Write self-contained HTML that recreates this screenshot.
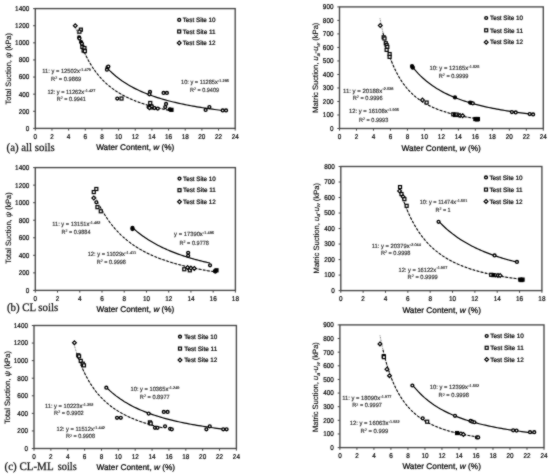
<!DOCTYPE html>
<html><head><meta charset="utf-8"><style>
html,body{margin:0;padding:0;background:#fff;}
svg{display:block;text-rendering:geometricPrecision;}
text{font-family:"Liberation Sans",Arial,sans-serif;fill:#000;}
.tk{font-size:7.0px;stroke:#000;stroke-width:0.2px;}
.lg{font-size:6.3px;stroke:#000;stroke-width:0.22px;}
.xt{font-size:8.25px;stroke:#000;stroke-width:0.22px;}
.yt1{font-size:7.7px;stroke:#000;stroke-width:0.12px;}
.yt2{font-size:7.7px;stroke:#000;stroke-width:0.12px;}
.eq{font-size:6.0px;fill:#262626;stroke:#262626;stroke-width:0.15px;}
.sup{font-size:3.8px;fill:#262626;stroke:#262626;stroke-width:0.15px;}
.r2{font-size:3.9px;stroke-width:0.12px;}
.cap{font-family:"Liberation Serif","Times New Roman",serif;font-size:11.4px;fill:#111;stroke:#111;stroke-width:0.25px;}
</style></head><body>
<svg width="550" height="474" viewBox="0 0 550 474">
<defs><filter id="soft" x="0" y="0" width="1" height="1" color-interpolation-filters="sRGB"><feConvolveMatrix order="3" kernelMatrix="1 2 1 2 16 2 1 2 1" edgeMode="duplicate"/></filter></defs>
<g filter="url(#soft)">
<rect width="550" height="474" fill="#fff"/>
<rect x="35.3" y="8.6" width="199.9" height="119.8" fill="none" stroke="#474747" stroke-width="1.35"/>
<text x="35.3" y="139" class="tk" text-anchor="middle" textLength="3.55" lengthAdjust="spacingAndGlyphs">0</text>
<text x="51.96" y="139" class="tk" text-anchor="middle" textLength="3.55" lengthAdjust="spacingAndGlyphs">2</text>
<text x="68.62" y="139" class="tk" text-anchor="middle" textLength="3.55" lengthAdjust="spacingAndGlyphs">4</text>
<text x="85.27" y="139" class="tk" text-anchor="middle" textLength="3.55" lengthAdjust="spacingAndGlyphs">6</text>
<text x="101.93" y="139" class="tk" text-anchor="middle" textLength="3.55" lengthAdjust="spacingAndGlyphs">8</text>
<text x="118.59" y="139" class="tk" text-anchor="middle" textLength="7.1" lengthAdjust="spacingAndGlyphs">10</text>
<text x="135.25" y="139" class="tk" text-anchor="middle" textLength="7.1" lengthAdjust="spacingAndGlyphs">12</text>
<text x="151.91" y="139" class="tk" text-anchor="middle" textLength="7.1" lengthAdjust="spacingAndGlyphs">14</text>
<text x="168.57" y="139" class="tk" text-anchor="middle" textLength="7.1" lengthAdjust="spacingAndGlyphs">16</text>
<text x="185.22" y="139" class="tk" text-anchor="middle" textLength="7.1" lengthAdjust="spacingAndGlyphs">18</text>
<text x="201.88" y="139" class="tk" text-anchor="middle" textLength="7.1" lengthAdjust="spacingAndGlyphs">20</text>
<text x="218.54" y="139" class="tk" text-anchor="middle" textLength="7.1" lengthAdjust="spacingAndGlyphs">22</text>
<text x="235.2" y="139" class="tk" text-anchor="middle" textLength="7.1" lengthAdjust="spacingAndGlyphs">24</text>
<text x="29.3" y="130.8" class="tk" text-anchor="end" textLength="3.55" lengthAdjust="spacingAndGlyphs">0</text>
<text x="29.3" y="113.69" class="tk" text-anchor="end" textLength="10.65" lengthAdjust="spacingAndGlyphs">200</text>
<text x="29.3" y="96.57" class="tk" text-anchor="end" textLength="10.65" lengthAdjust="spacingAndGlyphs">400</text>
<text x="29.3" y="79.46" class="tk" text-anchor="end" textLength="10.65" lengthAdjust="spacingAndGlyphs">600</text>
<text x="29.3" y="62.34" class="tk" text-anchor="end" textLength="10.65" lengthAdjust="spacingAndGlyphs">800</text>
<text x="29.3" y="45.23" class="tk" text-anchor="end" textLength="14.2" lengthAdjust="spacingAndGlyphs">1000</text>
<text x="29.3" y="28.11" class="tk" text-anchor="end" textLength="14.2" lengthAdjust="spacingAndGlyphs">1200</text>
<text x="29.3" y="11" class="tk" text-anchor="end" textLength="14.2" lengthAdjust="spacingAndGlyphs">1400</text>
<path d="M35.3 128.4v2.2M51.96 128.4v2.2M68.62 128.4v2.2M85.27 128.4v2.2M101.93 128.4v2.2M118.59 128.4v2.2M135.25 128.4v2.2M151.91 128.4v2.2M168.57 128.4v2.2M185.22 128.4v2.2M201.88 128.4v2.2M218.54 128.4v2.2M235.2 128.4v2.2M35.3 128.4h-2.2M35.3 111.29h-2.2M35.3 94.17h-2.2M35.3 77.06h-2.2M35.3 59.94h-2.2M35.3 42.83h-2.2M35.3 25.71h-2.2M35.3 8.6h-2.2" stroke="#474747" stroke-width="1" fill="none"/>
<polyline points="108,68.88 109.98,70.87 111.95,72.74 113.93,74.51 115.9,76.18 117.88,77.76 119.85,79.26 121.82,80.67 123.8,82.02 125.78,83.3 127.75,84.52 129.72,85.68 131.7,86.79 133.68,87.85 135.65,88.86 137.62,89.82 139.6,90.75 141.57,91.63 143.55,92.48 145.53,93.29 147.5,94.08 149.48,94.83 151.45,95.55 153.43,96.25 155.4,96.91 157.38,97.56 159.35,98.18 161.32,98.78 163.3,99.36 165.27,99.92 167.25,100.46 169.22,100.98 171.2,101.48 173.18,101.97 175.15,102.44 177.12,102.9 179.1,103.35 181.07,103.78 183.05,104.19 185.02,104.6 187,104.99 188.98,105.37 190.95,105.74 192.93,106.1 194.9,106.45 196.88,106.79 198.85,107.12 200.82,107.44 202.8,107.75 204.77,108.06 206.75,108.36 208.72,108.64 210.7,108.93 212.68,109.2 214.65,109.47 216.62,109.73 218.6,109.99 220.57,110.23 222.55,110.48 224.52,110.71 226.5,110.94" fill="none" stroke="#000" stroke-width="1.2"/>
<polyline points="81,44.1 82.48,47.87 83.97,51.36 85.45,54.6 86.93,57.62 88.42,60.43 89.9,63.06 91.38,65.52 92.87,67.83 94.35,69.99 95.83,72.03 97.32,73.95 98.8,75.76 100.28,77.47 101.77,79.09 103.25,80.63 104.73,82.08 106.22,83.46 107.7,84.77 109.18,86.02 110.67,87.21 112.15,88.35 113.63,89.43 115.12,90.46 116.6,91.45 118.08,92.39 119.57,93.3 121.05,94.16 122.53,94.99 124.02,95.79 125.5,96.55 126.98,97.29 128.47,98 129.95,98.68 131.43,99.33 132.92,99.96 134.4,100.57 135.88,101.15 137.37,101.72 138.85,102.26 140.33,102.79 141.82,103.3 143.3,103.79 144.78,104.27 146.27,104.73 147.75,105.17 149.23,105.61 150.72,106.02 152.2,106.43 153.68,106.82 155.17,107.2 156.65,107.57 158.13,107.93 159.62,108.28 161.1,108.62 162.58,108.95 164.07,109.27 165.55,109.58 167.03,109.88 168.52,110.18 170,110.46" fill="none" stroke="#000" stroke-width="1.05" stroke-dasharray="2.6 1.6"/>
<polyline points="75.5,27.11 77.08,32.54 78.65,37.48 80.23,42.01 81.8,46.17 83.38,50 84.95,53.54 86.53,56.81 88.1,59.85 89.68,62.67 91.25,65.3 92.83,67.76 94.4,70.06 95.97,72.22 97.55,74.24 99.12,76.15 100.7,77.94 102.28,79.63 103.85,81.23 105.42,82.73 107,84.16 108.58,85.52 110.15,86.8 111.72,88.03 113.3,89.19 114.88,90.3 116.45,91.35 118.02,92.36 119.6,93.32 121.18,94.23 122.75,95.11 124.32,95.95 125.9,96.76 127.47,97.53 129.05,98.27 130.62,98.98 132.2,99.66 133.78,100.31 135.35,100.95 136.93,101.55 138.5,102.14 140.08,102.7 141.65,103.24 143.23,103.77 144.8,104.27 146.38,104.76 147.95,105.23 149.53,105.69 151.1,106.13 152.68,106.56 154.25,106.97 155.82,107.37 157.4,107.76 158.97,108.13 160.55,108.5 162.12,108.85 163.7,109.19 165.28,109.52 166.85,109.85 168.43,110.16 170,110.46" fill="none" stroke="#000" stroke-width="0.6" stroke-dasharray="0.8 0.8"/>
<path d="M75.28 23.81L77.18 25.71L75.28 27.61L73.38 25.71Z" fill="#fff" stroke="#000" stroke-width="1.2"/>
<rect x="79.36" y="28.15" width="3" height="3" fill="#fff" stroke="#000" stroke-width="1.2"/>
<rect x="77.94" y="30.2" width="3" height="3" fill="#fff" stroke="#000" stroke-width="1.2"/>
<circle cx="79.19" cy="37.44" r="1.45" fill="#000" stroke="#000" stroke-width="1.35"/>
<circle cx="79.44" cy="38.55" r="1.45" fill="#fff" stroke="#000" stroke-width="1.35"/>
<circle cx="81.11" cy="42.14" r="1.45" fill="#000" stroke="#000" stroke-width="1.35"/>
<circle cx="81.94" cy="43.86" r="1.45" fill="#fff" stroke="#000" stroke-width="1.35"/>
<rect x="80.86" y="45.44" width="3" height="3" fill="#fff" stroke="#000" stroke-width="1.2"/>
<rect x="82.94" y="46.55" width="3" height="3" fill="#fff" stroke="#000" stroke-width="1.2"/>
<rect x="82.11" y="49.03" width="3" height="3" fill="#fff" stroke="#000" stroke-width="1.2"/>
<rect x="83.36" y="49.63" width="3" height="3" fill="#fff" stroke="#000" stroke-width="1.2"/>
<circle cx="107.51" cy="67.39" r="1.45" fill="#fff" stroke="#000" stroke-width="1.35"/>
<circle cx="108.35" cy="66.53" r="1.45" fill="#fff" stroke="#000" stroke-width="1.35"/>
<circle cx="106.93" cy="69.7" r="1.45" fill="#fff" stroke="#000" stroke-width="1.35"/>
<circle cx="117.26" cy="98.54" r="1.45" fill="#fff" stroke="#000" stroke-width="1.35"/>
<rect x="120.01" y="97.04" width="3" height="3" fill="#fff" stroke="#000" stroke-width="1.2"/>
<circle cx="149.99" cy="91.95" r="1.45" fill="#fff" stroke="#000" stroke-width="1.35"/>
<circle cx="149.41" cy="94.34" r="1.45" fill="#fff" stroke="#000" stroke-width="1.35"/>
<circle cx="163.57" cy="92.97" r="1.45" fill="#fff" stroke="#000" stroke-width="1.35"/>
<circle cx="166.9" cy="92.97" r="1.45" fill="#fff" stroke="#000" stroke-width="1.35"/>
<rect x="148.74" y="101.49" width="3" height="3" fill="#fff" stroke="#000" stroke-width="1.2"/>
<circle cx="148.58" cy="107.01" r="1.45" fill="#fff" stroke="#000" stroke-width="1.35"/>
<rect x="149.58" y="105.94" width="3" height="3" fill="#fff" stroke="#000" stroke-width="1.2"/>
<circle cx="151.91" cy="106.15" r="1.45" fill="#fff" stroke="#000" stroke-width="1.35"/>
<path d="M149.41 105.96L151.31 107.86L149.41 109.76L147.51 107.86Z" fill="#fff" stroke="#000" stroke-width="1.2"/>
<circle cx="154.41" cy="108.03" r="1.45" fill="#fff" stroke="#000" stroke-width="1.35"/>
<circle cx="157.74" cy="108.55" r="1.45" fill="#fff" stroke="#000" stroke-width="1.35"/>
<circle cx="166.07" cy="103.93" r="1.45" fill="#fff" stroke="#000" stroke-width="1.35"/>
<circle cx="165.23" cy="107.01" r="1.45" fill="#fff" stroke="#000" stroke-width="1.35"/>
<circle cx="169.82" cy="109.49" r="1.45" fill="#000" stroke="#000" stroke-width="1.35"/>
<rect x="169.98" y="108.33" width="3" height="3" fill="#000" stroke="#000" stroke-width="1.2"/>
<circle cx="205.63" cy="109.92" r="1.45" fill="#fff" stroke="#000" stroke-width="1.35"/>
<circle cx="209.38" cy="107.01" r="1.45" fill="#fff" stroke="#000" stroke-width="1.35"/>
<circle cx="222.71" cy="110.43" r="1.45" fill="#fff" stroke="#000" stroke-width="1.35"/>
<circle cx="226.04" cy="110.43" r="1.45" fill="#fff" stroke="#000" stroke-width="1.35"/>
<circle cx="179.2" cy="19.9" r="1.45" fill="#fff" stroke="#000" stroke-width="1.35"/>
<text x="182.7" y="22.1" class="lg" textLength="32.9" lengthAdjust="spacingAndGlyphs">Test Site 10</text>
<rect x="177.7" y="30" width="3" height="3" fill="#fff" stroke="#000" stroke-width="1.2"/>
<text x="182.7" y="33.7" class="lg" textLength="32.9" lengthAdjust="spacingAndGlyphs">Test Site 11</text>
<path d="M179.2 41L181.1 42.9L179.2 44.8L177.3 42.9Z" fill="#fff" stroke="#000" stroke-width="1.2"/>
<text x="182.7" y="45.1" class="lg" textLength="32.9" lengthAdjust="spacingAndGlyphs">Test Site 12</text>
<text x="42.3" y="73.3" class="eq" textLength="37.5" lengthAdjust="spacingAndGlyphs">11: y = 12502x</text>
<text x="80.1" y="71.2" class="sup" textLength="10.9" lengthAdjust="spacingAndGlyphs">-1.479</text>
<text x="51" y="80.9" class="eq" textLength="30.3" lengthAdjust="spacingAndGlyphs">R<tspan class="r2" dy="-1.9">2</tspan><tspan dy="1.9"> = 0.9869</tspan></text>
<text x="47.4" y="93.7" class="eq" textLength="36.8" lengthAdjust="spacingAndGlyphs">12: y = 11262x</text>
<text x="84.5" y="91.6" class="sup" textLength="10.9" lengthAdjust="spacingAndGlyphs">-1.427</text>
<text x="56.8" y="101" class="eq" textLength="29.1" lengthAdjust="spacingAndGlyphs">R<tspan class="r2" dy="-1.9">2</tspan><tspan dy="1.9"> = 0.9941</tspan></text>
<text x="181" y="84.4" class="eq" textLength="36.8" lengthAdjust="spacingAndGlyphs">10: y = 11285x</text>
<text x="218.1" y="82.3" class="sup" textLength="10.9" lengthAdjust="spacingAndGlyphs">-1.285</text>
<text x="190" y="92" class="eq" textLength="29" lengthAdjust="spacingAndGlyphs">R<tspan class="r2" dy="-1.9">2</tspan><tspan dy="1.9"> = 0.9409</tspan></text>
<text x="96.2" y="150.4" class="xt" textLength="78.1" lengthAdjust="spacingAndGlyphs">Water Content, <tspan font-style="italic">w</tspan> (%)</text>
<text transform="translate(11.4 68.75) rotate(-90)" x="0" y="0" text-anchor="middle" class="yt1" textLength="71.3" lengthAdjust="spacingAndGlyphs">Total Suction, <tspan font-style="italic">ψ</tspan> (kPa)</text>
<text x="6.6" y="151.1" class="cap" textLength="48.1" lengthAdjust="spacingAndGlyphs">(a) all soils</text>
<rect x="339.5" y="6.9" width="203.8" height="121.6" fill="none" stroke="#474747" stroke-width="1.35"/>
<text x="339.5" y="139.1" class="tk" text-anchor="middle" textLength="3.55" lengthAdjust="spacingAndGlyphs">0</text>
<text x="356.48" y="139.1" class="tk" text-anchor="middle" textLength="3.55" lengthAdjust="spacingAndGlyphs">2</text>
<text x="373.47" y="139.1" class="tk" text-anchor="middle" textLength="3.55" lengthAdjust="spacingAndGlyphs">4</text>
<text x="390.45" y="139.1" class="tk" text-anchor="middle" textLength="3.55" lengthAdjust="spacingAndGlyphs">6</text>
<text x="407.43" y="139.1" class="tk" text-anchor="middle" textLength="3.55" lengthAdjust="spacingAndGlyphs">8</text>
<text x="424.42" y="139.1" class="tk" text-anchor="middle" textLength="7.1" lengthAdjust="spacingAndGlyphs">10</text>
<text x="441.4" y="139.1" class="tk" text-anchor="middle" textLength="7.1" lengthAdjust="spacingAndGlyphs">12</text>
<text x="458.38" y="139.1" class="tk" text-anchor="middle" textLength="7.1" lengthAdjust="spacingAndGlyphs">14</text>
<text x="475.37" y="139.1" class="tk" text-anchor="middle" textLength="7.1" lengthAdjust="spacingAndGlyphs">16</text>
<text x="492.35" y="139.1" class="tk" text-anchor="middle" textLength="7.1" lengthAdjust="spacingAndGlyphs">18</text>
<text x="509.33" y="139.1" class="tk" text-anchor="middle" textLength="7.1" lengthAdjust="spacingAndGlyphs">20</text>
<text x="526.32" y="139.1" class="tk" text-anchor="middle" textLength="7.1" lengthAdjust="spacingAndGlyphs">22</text>
<text x="543.3" y="139.1" class="tk" text-anchor="middle" textLength="7.1" lengthAdjust="spacingAndGlyphs">24</text>
<text x="333.5" y="130.9" class="tk" text-anchor="end" textLength="3.55" lengthAdjust="spacingAndGlyphs">0</text>
<text x="333.5" y="117.39" class="tk" text-anchor="end" textLength="10.65" lengthAdjust="spacingAndGlyphs">100</text>
<text x="333.5" y="103.88" class="tk" text-anchor="end" textLength="10.65" lengthAdjust="spacingAndGlyphs">200</text>
<text x="333.5" y="90.37" class="tk" text-anchor="end" textLength="10.65" lengthAdjust="spacingAndGlyphs">300</text>
<text x="333.5" y="76.86" class="tk" text-anchor="end" textLength="10.65" lengthAdjust="spacingAndGlyphs">400</text>
<text x="333.5" y="63.34" class="tk" text-anchor="end" textLength="10.65" lengthAdjust="spacingAndGlyphs">500</text>
<text x="333.5" y="49.83" class="tk" text-anchor="end" textLength="10.65" lengthAdjust="spacingAndGlyphs">600</text>
<text x="333.5" y="36.32" class="tk" text-anchor="end" textLength="10.65" lengthAdjust="spacingAndGlyphs">700</text>
<text x="333.5" y="22.81" class="tk" text-anchor="end" textLength="10.65" lengthAdjust="spacingAndGlyphs">800</text>
<text x="333.5" y="9.3" class="tk" text-anchor="end" textLength="10.65" lengthAdjust="spacingAndGlyphs">900</text>
<path d="M339.5 128.5v2.2M356.48 128.5v2.2M373.47 128.5v2.2M390.45 128.5v2.2M407.43 128.5v2.2M424.42 128.5v2.2M441.4 128.5v2.2M458.38 128.5v2.2M475.37 128.5v2.2M492.35 128.5v2.2M509.33 128.5v2.2M526.32 128.5v2.2M543.3 128.5v2.2M339.5 128.5h-2.2M339.5 114.99h-2.2M339.5 101.48h-2.2M339.5 87.97h-2.2M339.5 74.46h-2.2M339.5 60.94h-2.2M339.5 47.43h-2.2M339.5 33.92h-2.2M339.5 20.41h-2.2M339.5 6.9h-2.2" stroke="#474747" stroke-width="1" fill="none"/>
<polyline points="412.5,66.92 414.51,69.38 416.52,71.68 418.52,73.84 420.53,75.86 422.54,77.77 424.55,79.56 426.56,81.24 428.57,82.84 430.57,84.34 432.58,85.77 434.59,87.12 436.6,88.4 438.61,89.61 440.62,90.77 442.62,91.87 444.63,92.91 446.64,93.91 448.65,94.86 450.66,95.77 452.67,96.64 454.68,97.47 456.68,98.27 458.69,99.03 460.7,99.76 462.71,100.46 464.72,101.14 466.72,101.78 468.73,102.41 470.74,103 472.75,103.58 474.76,104.13 476.77,104.67 478.77,105.18 480.78,105.68 482.79,106.16 484.8,106.62 486.81,107.07 488.82,107.5 490.82,107.92 492.83,108.32 494.84,108.71 496.85,109.09 498.86,109.46 500.87,109.81 502.88,110.16 504.88,110.49 506.89,110.81 508.9,111.13 510.91,111.43 512.92,111.73 514.92,112.02 516.93,112.3 518.94,112.57 520.95,112.83 522.96,113.09 524.97,113.34 526.98,113.58 528.98,113.82 530.99,114.05 533,114.28" fill="none" stroke="#000" stroke-width="1.2"/>
<polyline points="383,32.92 384.57,39.37 386.13,45.18 387.7,50.45 389.27,55.23 390.83,59.58 392.4,63.55 393.97,67.19 395.53,70.53 397.1,73.6 398.67,76.43 400.23,79.05 401.8,81.48 403.37,83.73 404.93,85.82 406.5,87.77 408.07,89.59 409.63,91.29 411.2,92.87 412.77,94.36 414.33,95.76 415.9,97.07 417.47,98.31 419.03,99.47 420.6,100.57 422.17,101.6 423.73,102.58 425.3,103.51 426.87,104.39 428.43,105.22 430,106.01 431.57,106.76 433.13,107.47 434.7,108.15 436.27,108.79 437.83,109.41 439.4,110 440.97,110.56 442.53,111.09 444.1,111.6 445.67,112.09 447.23,112.56 448.8,113.01 450.37,113.44 451.93,113.85 453.5,114.24 455.07,114.62 456.63,114.99 458.2,115.34 459.77,115.67 461.33,116 462.9,116.31 464.47,116.61 466.03,116.9 467.6,117.18 469.17,117.44 470.73,117.7 472.3,117.95 473.87,118.2 475.43,118.43 477,118.65" fill="none" stroke="#000" stroke-width="1.05" stroke-dasharray="2.6 1.6"/>
<polyline points="380,18.43 381.62,26.62 383.23,33.92 384.85,40.46 386.47,46.35 388.08,51.66 389.7,56.47 391.32,60.84 392.93,64.82 394.55,68.46 396.17,71.8 397.78,74.86 399.4,77.69 401.02,80.29 402.63,82.7 404.25,84.93 405.87,87 407.48,88.93 409.1,90.72 410.72,92.4 412.33,93.96 413.95,95.43 415.57,96.8 417.18,98.09 418.8,99.3 420.42,100.44 422.03,101.52 423.65,102.53 425.27,103.49 426.88,104.4 428.5,105.25 430.12,106.06 431.73,106.83 433.35,107.57 434.97,108.26 436.58,108.92 438.2,109.55 439.82,110.15 441.43,110.72 443.05,111.26 444.67,111.78 446.28,112.28 447.9,112.75 449.52,113.21 451.13,113.64 452.75,114.06 454.37,114.45 455.98,114.84 457.6,115.2 459.22,115.56 460.83,115.89 462.45,116.22 464.07,116.53 465.68,116.83 467.3,117.12 468.92,117.4 470.53,117.67 472.15,117.93 473.77,118.18 475.38,118.42 477,118.65" fill="none" stroke="#000" stroke-width="0.6" stroke-dasharray="0.8 0.8"/>
<path d="M380.26 23.65L382.16 25.55L380.26 27.45L378.36 25.55Z" fill="#fff" stroke="#000" stroke-width="1.2"/>
<rect x="382.16" y="35.8" width="3" height="3" fill="#fff" stroke="#000" stroke-width="1.2"/>
<rect x="383.01" y="37.02" width="3" height="3" fill="#fff" stroke="#000" stroke-width="1.2"/>
<rect x="384.28" y="41.74" width="3" height="3" fill="#fff" stroke="#000" stroke-width="1.2"/>
<rect x="385.13" y="43.64" width="3" height="3" fill="#fff" stroke="#000" stroke-width="1.2"/>
<rect x="385.81" y="45.39" width="3" height="3" fill="#fff" stroke="#000" stroke-width="1.2"/>
<rect x="385.13" y="48.37" width="3" height="3" fill="#fff" stroke="#000" stroke-width="1.2"/>
<rect x="388.1" y="52.55" width="3" height="3" fill="#fff" stroke="#000" stroke-width="1.2"/>
<rect x="388.1" y="55.39" width="3" height="3" fill="#fff" stroke="#000" stroke-width="1.2"/>
<circle cx="412.02" cy="66.08" r="1.45" fill="#fff" stroke="#000" stroke-width="1.35"/>
<circle cx="412.78" cy="67.7" r="1.45" fill="#000" stroke="#000" stroke-width="1.35"/>
<circle cx="412.36" cy="66.89" r="1.45" fill="#000" stroke="#000" stroke-width="1.35"/>
<path d="M422.46 98.09L424.36 99.99L422.46 101.89L420.56 99.99Z" fill="#fff" stroke="#000" stroke-width="1.2"/>
<rect x="425.12" y="101.06" width="3" height="3" fill="#fff" stroke="#000" stroke-width="1.2"/>
<circle cx="454.99" cy="97.42" r="1.45" fill="#000" stroke="#000" stroke-width="1.35"/>
<circle cx="470.02" cy="102.56" r="1.45" fill="#000" stroke="#000" stroke-width="1.35"/>
<circle cx="471.12" cy="102.83" r="1.45" fill="#000" stroke="#000" stroke-width="1.35"/>
<circle cx="472.82" cy="103.37" r="1.45" fill="#fff" stroke="#000" stroke-width="1.35"/>
<circle cx="511.88" cy="112.02" r="1.45" fill="#fff" stroke="#000" stroke-width="1.35"/>
<circle cx="515.7" cy="112.42" r="1.45" fill="#fff" stroke="#000" stroke-width="1.35"/>
<circle cx="529.71" cy="114.04" r="1.45" fill="#fff" stroke="#000" stroke-width="1.35"/>
<circle cx="533.11" cy="114.45" r="1.45" fill="#fff" stroke="#000" stroke-width="1.35"/>
<rect x="451.79" y="112.81" width="3" height="3" fill="#fff" stroke="#000" stroke-width="1.2"/>
<rect x="453.49" y="113.49" width="3" height="3" fill="#000" stroke="#000" stroke-width="1.2"/>
<rect x="455.19" y="113.08" width="3" height="3" fill="#fff" stroke="#000" stroke-width="1.2"/>
<circle cx="458.38" cy="115.26" r="1.45" fill="#fff" stroke="#000" stroke-width="1.35"/>
<path d="M460.08 113.63L461.98 115.53L460.08 117.43L458.18 115.53Z" fill="#fff" stroke="#000" stroke-width="1.2"/>
<path d="M462.63 113.76L464.53 115.66L462.63 117.56L460.73 115.66Z" fill="#fff" stroke="#000" stroke-width="1.2"/>
<rect x="473.87" y="117.54" width="3" height="3" fill="#000" stroke="#000" stroke-width="1.2"/>
<rect x="475.14" y="117.54" width="3" height="3" fill="#000" stroke="#000" stroke-width="1.2"/>
<rect x="476.41" y="117.54" width="3" height="3" fill="#000" stroke="#000" stroke-width="1.2"/>
<rect x="475.56" y="117.81" width="3" height="3" fill="#000" stroke="#000" stroke-width="1.2"/>
<circle cx="486.2" cy="18" r="1.45" fill="#fff" stroke="#000" stroke-width="1.35"/>
<text x="490" y="20.2" class="lg" textLength="33" lengthAdjust="spacingAndGlyphs">Test Site 10</text>
<rect x="484.7" y="28.8" width="3" height="3" fill="#fff" stroke="#000" stroke-width="1.2"/>
<text x="490" y="32.5" class="lg" textLength="33" lengthAdjust="spacingAndGlyphs">Test Site 11</text>
<path d="M486.2 40.3L488.1 42.2L486.2 44.1L484.3 42.2Z" fill="#fff" stroke="#000" stroke-width="1.2"/>
<text x="490" y="44.4" class="lg" textLength="33" lengthAdjust="spacingAndGlyphs">Test Site 12</text>
<text x="429.6" y="70.1" class="eq" textLength="38.6" lengthAdjust="spacingAndGlyphs">10: y = 12165x</text>
<text x="468.5" y="68" class="sup" textLength="10.9" lengthAdjust="spacingAndGlyphs">-1.525</text>
<text x="438.7" y="77.8" class="eq" textLength="29.8" lengthAdjust="spacingAndGlyphs">R<tspan class="r2" dy="-1.9">2</tspan><tspan dy="1.9"> = 0.9999</tspan></text>
<text x="343" y="92.5" class="eq" textLength="39.2" lengthAdjust="spacingAndGlyphs">11: y = 20188x</text>
<text x="382.5" y="90.4" class="sup" textLength="10.9" lengthAdjust="spacingAndGlyphs">-2.038</text>
<text x="352.7" y="100.2" class="eq" textLength="30" lengthAdjust="spacingAndGlyphs">R<tspan class="r2" dy="-1.9">2</tspan><tspan dy="1.9"> = 0.9996</tspan></text>
<text x="348.9" y="112.9" class="eq" textLength="38.9" lengthAdjust="spacingAndGlyphs">12: y = 16108x</text>
<text x="388.1" y="110.8" class="sup" textLength="10.9" lengthAdjust="spacingAndGlyphs">-1.905</text>
<text x="359" y="121.8" class="eq" textLength="29.3" lengthAdjust="spacingAndGlyphs">R<tspan class="r2" dy="-1.9">2</tspan><tspan dy="1.9"> = 0.9993</tspan></text>
<text x="401.5" y="150.5" class="xt" textLength="79.4" lengthAdjust="spacingAndGlyphs">Water Content, <tspan font-style="italic">w</tspan> (%)</text>
<text transform="translate(318.1 112.7) rotate(-90)" x="0" y="0" class="yt2" textLength="90.1" lengthAdjust="spacingAndGlyphs">Matric Suction, <tspan font-style="italic">u</tspan><tspan font-style="italic" font-size="5.4" dy="1.6">a</tspan><tspan dy="-1.6">-</tspan><tspan font-style="italic">u</tspan><tspan font-style="italic" font-size="5.4" dy="1.6">w</tspan><tspan dy="-1.6"> (kPa)</tspan></text>
<rect x="35.3" y="167.6" width="200.1" height="122.8" fill="none" stroke="#474747" stroke-width="1.35"/>
<text x="35.3" y="301" class="tk" text-anchor="middle" textLength="3.55" lengthAdjust="spacingAndGlyphs">0</text>
<text x="57.53" y="301" class="tk" text-anchor="middle" textLength="3.55" lengthAdjust="spacingAndGlyphs">2</text>
<text x="79.77" y="301" class="tk" text-anchor="middle" textLength="3.55" lengthAdjust="spacingAndGlyphs">4</text>
<text x="102" y="301" class="tk" text-anchor="middle" textLength="3.55" lengthAdjust="spacingAndGlyphs">6</text>
<text x="124.23" y="301" class="tk" text-anchor="middle" textLength="3.55" lengthAdjust="spacingAndGlyphs">8</text>
<text x="146.47" y="301" class="tk" text-anchor="middle" textLength="7.1" lengthAdjust="spacingAndGlyphs">10</text>
<text x="168.7" y="301" class="tk" text-anchor="middle" textLength="7.1" lengthAdjust="spacingAndGlyphs">12</text>
<text x="190.93" y="301" class="tk" text-anchor="middle" textLength="7.1" lengthAdjust="spacingAndGlyphs">14</text>
<text x="213.17" y="301" class="tk" text-anchor="middle" textLength="7.1" lengthAdjust="spacingAndGlyphs">16</text>
<text x="235.4" y="301" class="tk" text-anchor="middle" textLength="7.1" lengthAdjust="spacingAndGlyphs">18</text>
<text x="29.3" y="292.8" class="tk" text-anchor="end" textLength="3.55" lengthAdjust="spacingAndGlyphs">0</text>
<text x="29.3" y="275.26" class="tk" text-anchor="end" textLength="10.65" lengthAdjust="spacingAndGlyphs">200</text>
<text x="29.3" y="257.71" class="tk" text-anchor="end" textLength="10.65" lengthAdjust="spacingAndGlyphs">400</text>
<text x="29.3" y="240.17" class="tk" text-anchor="end" textLength="10.65" lengthAdjust="spacingAndGlyphs">600</text>
<text x="29.3" y="222.63" class="tk" text-anchor="end" textLength="10.65" lengthAdjust="spacingAndGlyphs">800</text>
<text x="29.3" y="205.09" class="tk" text-anchor="end" textLength="14.2" lengthAdjust="spacingAndGlyphs">1000</text>
<text x="29.3" y="187.54" class="tk" text-anchor="end" textLength="14.2" lengthAdjust="spacingAndGlyphs">1200</text>
<text x="29.3" y="170" class="tk" text-anchor="end" textLength="14.2" lengthAdjust="spacingAndGlyphs">1400</text>
<path d="M35.3 290.4v2.2M57.53 290.4v2.2M79.77 290.4v2.2M102 290.4v2.2M124.23 290.4v2.2M146.47 290.4v2.2M168.7 290.4v2.2M190.93 290.4v2.2M213.17 290.4v2.2M235.4 290.4v2.2M35.3 290.4h-2.2M35.3 272.86h-2.2M35.3 255.31h-2.2M35.3 237.77h-2.2M35.3 220.23h-2.2M35.3 202.69h-2.2M35.3 185.14h-2.2M35.3 167.6h-2.2" stroke="#474747" stroke-width="1" fill="none"/>
<polyline points="132.3,227.51 133.6,228.68 134.89,229.81 136.19,230.91 137.48,231.98 138.78,233.01 140.07,234.01 141.37,234.99 142.66,235.93 143.96,236.85 145.25,237.74 146.55,238.61 147.84,239.45 149.13,240.27 150.43,241.06 151.73,241.84 153.02,242.59 154.32,243.33 155.61,244.05 156.91,244.74 158.2,245.42 159.5,246.09 160.79,246.73 162.09,247.36 163.38,247.98 164.68,248.58 165.97,249.16 167.26,249.74 168.56,250.29 169.86,250.84 171.15,251.37 172.44,251.89 173.74,252.4 175.04,252.9 176.33,253.39 177.62,253.86 178.92,254.33 180.22,254.79 181.51,255.23 182.81,255.67 184.1,256.1 185.39,256.51 186.69,256.92 187.99,257.32 189.28,257.72 190.57,258.1 191.87,258.48 193.17,258.85 194.46,259.21 195.75,259.57 197.05,259.92 198.34,260.26 199.64,260.6 200.94,260.93 202.23,261.25 203.53,261.57 204.82,261.88 206.12,262.19 207.41,262.49 208.71,262.78 210,263.07" fill="none" stroke="#000" stroke-width="1.2"/>
<polyline points="100,206.46 101.92,210.01 103.83,213.31 105.75,216.39 107.67,219.28 109.58,221.98 111.5,224.51 113.42,226.89 115.33,229.13 117.25,231.23 119.17,233.22 121.08,235.1 123,236.88 124.92,238.57 126.83,240.17 128.75,241.68 130.67,243.13 132.58,244.5 134.5,245.81 136.42,247.05 138.33,248.24 140.25,249.37 142.17,250.46 144.08,251.49 146,252.49 147.92,253.44 149.83,254.35 151.75,255.23 153.67,256.06 155.58,256.87 157.5,257.65 159.42,258.39 161.33,259.11 163.25,259.8 165.17,260.47 167.08,261.11 169,261.73 170.92,262.33 172.83,262.9 174.75,263.46 176.67,264 178.58,264.52 180.5,265.03 182.42,265.51 184.33,265.99 186.25,266.44 188.17,266.89 190.08,267.32 192,267.73 193.92,268.14 195.83,268.53 197.75,268.91 199.67,269.28 201.58,269.64 203.5,269.99 205.42,270.33 207.33,270.66 209.25,270.98 211.17,271.29 213.08,271.6 215,271.89" fill="none" stroke="#000" stroke-width="1.05" stroke-dasharray="2.6 1.6"/>
<polyline points="95,195.84 97,200.35 99,204.5 101,208.34 103,211.9 105,215.21 107,218.3 109,221.17 111,223.86 113,226.38 115,228.75 117,230.97 119,233.06 121,235.03 123,236.88 125,238.64 127,240.3 129,241.88 131,243.37 133,244.79 135,246.14 137,247.42 139,248.64 141,249.8 143,250.91 145,251.98 147,252.99 149,253.96 151,254.89 153,255.78 155,256.63 157,257.45 159,258.23 161,258.99 163,259.71 165,260.41 167,261.08 169,261.73 171,262.35 173,262.95 175,263.53 177,264.09 179,264.63 181,265.15 183,265.66 185,266.15 187,266.62 189,267.07 191,267.52 193,267.94 195,268.36 197,268.76 199,269.15 201,269.53 203,269.9 205,270.25 207,270.6 209,270.94 211,271.26 213,271.58 215,271.89" fill="none" stroke="#000" stroke-width="0.6" stroke-dasharray="0.8 0.8"/>
<rect x="94.83" y="187.5" width="3" height="3" fill="#fff" stroke="#000" stroke-width="1.2"/>
<rect x="92.27" y="190.57" width="3" height="3" fill="#fff" stroke="#000" stroke-width="1.2"/>
<path d="M93.77 196.14L95.67 198.04L93.77 199.94L91.87 198.04Z" fill="#fff" stroke="#000" stroke-width="1.2"/>
<circle cx="96.33" cy="202.33" r="1.45" fill="#fff" stroke="#000" stroke-width="1.35"/>
<rect x="95.94" y="205.66" width="3" height="3" fill="#fff" stroke="#000" stroke-width="1.2"/>
<rect x="99.28" y="209.78" width="3" height="3" fill="#fff" stroke="#000" stroke-width="1.2"/>
<circle cx="132.46" cy="229" r="1.45" fill="#fff" stroke="#000" stroke-width="1.35"/>
<circle cx="132.46" cy="227.95" r="1.45" fill="#000" stroke="#000" stroke-width="1.35"/>
<circle cx="188.15" cy="252.77" r="1.45" fill="#fff" stroke="#000" stroke-width="1.35"/>
<circle cx="188.15" cy="255.75" r="1.45" fill="#fff" stroke="#000" stroke-width="1.35"/>
<circle cx="210.05" cy="265.31" r="1.45" fill="#fff" stroke="#000" stroke-width="1.35"/>
<rect x="182.76" y="267.76" width="3" height="3" fill="#fff" stroke="#000" stroke-width="1.2"/>
<rect x="188.32" y="268.81" width="3" height="3" fill="#fff" stroke="#000" stroke-width="1.2"/>
<path d="M187.6 265.69L189.5 267.59L187.6 269.49L185.7 267.59Z" fill="#fff" stroke="#000" stroke-width="1.2"/>
<path d="M190.93 266.22L192.83 268.12L190.93 270.02L189.03 268.12Z" fill="#fff" stroke="#000" stroke-width="1.2"/>
<path d="M194.27 266.48L196.17 268.38L194.27 270.28L192.37 268.38Z" fill="#fff" stroke="#000" stroke-width="1.2"/>
<circle cx="214.83" cy="271.1" r="1.45" fill="#000" stroke="#000" stroke-width="1.35"/>
<rect x="215" y="268.81" width="3" height="3" fill="#000" stroke="#000" stroke-width="1.2"/>
<circle cx="215.39" cy="271.54" r="1.45" fill="#000" stroke="#000" stroke-width="1.35"/>
<circle cx="179.5" cy="178.6" r="1.45" fill="#fff" stroke="#000" stroke-width="1.35"/>
<text x="183.1" y="180.8" class="lg" textLength="32.7" lengthAdjust="spacingAndGlyphs">Test Site 10</text>
<rect x="178" y="188.7" width="3" height="3" fill="#fff" stroke="#000" stroke-width="1.2"/>
<text x="183.1" y="192.4" class="lg" textLength="32.7" lengthAdjust="spacingAndGlyphs">Test Site 11</text>
<path d="M179.5 199.9L181.4 201.8L179.5 203.7L177.6 201.8Z" fill="#fff" stroke="#000" stroke-width="1.2"/>
<text x="183.1" y="204" class="lg" textLength="32.7" lengthAdjust="spacingAndGlyphs">Test Site 12</text>
<text x="52.3" y="226.2" class="eq" textLength="37" lengthAdjust="spacingAndGlyphs">11: y = 13151x</text>
<text x="89.6" y="224.1" class="sup" textLength="10.9" lengthAdjust="spacingAndGlyphs">-1.482</text>
<text x="61.4" y="233.5" class="eq" textLength="29.1" lengthAdjust="spacingAndGlyphs">R<tspan class="r2" dy="-1.9">2</tspan><tspan dy="1.9"> = 0.9884</tspan></text>
<text x="87.7" y="256.2" class="eq" textLength="37.3" lengthAdjust="spacingAndGlyphs">12: y = 11029x</text>
<text x="125.3" y="254.1" class="sup" textLength="10.9" lengthAdjust="spacingAndGlyphs">-1.411</text>
<text x="96.8" y="264.2" class="eq" textLength="29.1" lengthAdjust="spacingAndGlyphs">R<tspan class="r2" dy="-1.9">2</tspan><tspan dy="1.9"> = 0.9998</tspan></text>
<text x="174.1" y="236.4" class="eq" textLength="28.7" lengthAdjust="spacingAndGlyphs">y = 17390x</text>
<text x="203.1" y="234.3" class="sup" textLength="10.9" lengthAdjust="spacingAndGlyphs">-1.486</text>
<text x="179.5" y="244.7" class="eq" textLength="29.5" lengthAdjust="spacingAndGlyphs">R<tspan class="r2" dy="-1.9">2</tspan><tspan dy="1.9"> = 0.9778</tspan></text>
<text x="96.5" y="311.9" class="xt" textLength="77.8" lengthAdjust="spacingAndGlyphs">Water Content, <tspan font-style="italic">w</tspan> (%)</text>
<text transform="translate(11.4 228) rotate(-90)" x="0" y="0" text-anchor="middle" class="yt1" textLength="71.4" lengthAdjust="spacingAndGlyphs">Total Suction, <tspan font-style="italic">ψ</tspan> (kPa)</text>
<text x="6.9" y="310.7" class="cap" textLength="51.3" lengthAdjust="spacingAndGlyphs">(b) CL soils</text>
<rect x="340.8" y="166.5" width="201.1" height="124.1" fill="none" stroke="#474747" stroke-width="1.35"/>
<text x="340.8" y="301.2" class="tk" text-anchor="middle" textLength="3.55" lengthAdjust="spacingAndGlyphs">0</text>
<text x="363.14" y="301.2" class="tk" text-anchor="middle" textLength="3.55" lengthAdjust="spacingAndGlyphs">2</text>
<text x="385.49" y="301.2" class="tk" text-anchor="middle" textLength="3.55" lengthAdjust="spacingAndGlyphs">4</text>
<text x="407.83" y="301.2" class="tk" text-anchor="middle" textLength="3.55" lengthAdjust="spacingAndGlyphs">6</text>
<text x="430.18" y="301.2" class="tk" text-anchor="middle" textLength="3.55" lengthAdjust="spacingAndGlyphs">8</text>
<text x="452.52" y="301.2" class="tk" text-anchor="middle" textLength="7.1" lengthAdjust="spacingAndGlyphs">10</text>
<text x="474.87" y="301.2" class="tk" text-anchor="middle" textLength="7.1" lengthAdjust="spacingAndGlyphs">12</text>
<text x="497.21" y="301.2" class="tk" text-anchor="middle" textLength="7.1" lengthAdjust="spacingAndGlyphs">14</text>
<text x="519.56" y="301.2" class="tk" text-anchor="middle" textLength="7.1" lengthAdjust="spacingAndGlyphs">16</text>
<text x="541.9" y="301.2" class="tk" text-anchor="middle" textLength="7.1" lengthAdjust="spacingAndGlyphs">18</text>
<text x="334.8" y="293" class="tk" text-anchor="end" textLength="3.55" lengthAdjust="spacingAndGlyphs">0</text>
<text x="334.8" y="277.49" class="tk" text-anchor="end" textLength="10.65" lengthAdjust="spacingAndGlyphs">100</text>
<text x="334.8" y="261.98" class="tk" text-anchor="end" textLength="10.65" lengthAdjust="spacingAndGlyphs">200</text>
<text x="334.8" y="246.46" class="tk" text-anchor="end" textLength="10.65" lengthAdjust="spacingAndGlyphs">300</text>
<text x="334.8" y="230.95" class="tk" text-anchor="end" textLength="10.65" lengthAdjust="spacingAndGlyphs">400</text>
<text x="334.8" y="215.44" class="tk" text-anchor="end" textLength="10.65" lengthAdjust="spacingAndGlyphs">500</text>
<text x="334.8" y="199.93" class="tk" text-anchor="end" textLength="10.65" lengthAdjust="spacingAndGlyphs">600</text>
<text x="334.8" y="184.41" class="tk" text-anchor="end" textLength="10.65" lengthAdjust="spacingAndGlyphs">700</text>
<text x="334.8" y="168.9" class="tk" text-anchor="end" textLength="10.65" lengthAdjust="spacingAndGlyphs">800</text>
<path d="M340.8 290.6v2.2M363.14 290.6v2.2M385.49 290.6v2.2M407.83 290.6v2.2M430.18 290.6v2.2M452.52 290.6v2.2M474.87 290.6v2.2M497.21 290.6v2.2M519.56 290.6v2.2M541.9 290.6v2.2M340.8 290.6h-2.2M340.8 275.09h-2.2M340.8 259.58h-2.2M340.8 244.06h-2.2M340.8 228.55h-2.2M340.8 213.04h-2.2M340.8 197.53h-2.2M340.8 182.01h-2.2M340.8 166.5h-2.2" stroke="#474747" stroke-width="1" fill="none"/>
<polyline points="438.2,220.71 439.5,222.1 440.81,223.45 442.12,224.76 443.42,226.02 444.73,227.25 446.03,228.44 447.33,229.59 448.64,230.7 449.94,231.78 451.25,232.83 452.56,233.85 453.86,234.84 455.16,235.8 456.47,236.74 457.77,237.65 459.08,238.53 460.38,239.39 461.69,240.22 463,241.04 464.3,241.83 465.61,242.6 466.91,243.35 468.22,244.08 469.52,244.79 470.82,245.49 472.13,246.17 473.44,246.83 474.74,247.47 476.05,248.1 477.35,248.72 478.65,249.31 479.96,249.9 481.26,250.47 482.57,251.03 483.88,251.58 485.18,252.11 486.49,252.63 487.79,253.14 489.09,253.64 490.4,254.13 491.7,254.6 493.01,255.07 494.31,255.53 495.62,255.97 496.92,256.41 498.23,256.84 499.53,257.26 500.84,257.67 502.14,258.07 503.45,258.47 504.75,258.86 506.06,259.23 507.37,259.61 508.67,259.97 509.98,260.33 511.28,260.68 512.59,261.02 513.89,261.36 515.19,261.69 516.5,262.02" fill="none" stroke="#000" stroke-width="1.2"/>
<polyline points="400,189.87 402.03,196.32 404.07,202.18 406.1,207.5 408.13,212.35 410.17,216.79 412.2,220.85 414.23,224.59 416.27,228.04 418.3,231.22 420.33,234.16 422.37,236.88 424.4,239.42 426.43,241.77 428.47,243.97 430.5,246.02 432.53,247.94 434.57,249.74 436.6,251.42 438.63,253 440.67,254.49 442.7,255.89 444.73,257.21 446.77,258.45 448.8,259.63 450.83,260.74 452.87,261.8 454.9,262.8 456.93,263.74 458.97,264.64 461,265.5 463.03,266.31 465.07,267.08 467.1,267.82 469.13,268.52 471.17,269.19 473.2,269.83 475.23,270.44 477.27,271.03 479.3,271.59 481.33,272.13 483.37,272.64 485.4,273.13 487.43,273.6 489.47,274.06 491.5,274.49 493.53,274.91 495.57,275.31 497.6,275.7 499.63,276.07 501.67,276.43 503.7,276.77 505.73,277.11 507.77,277.43 509.8,277.73 511.83,278.03 513.87,278.32 515.9,278.6 517.93,278.87 519.97,279.13 522,279.38" fill="none" stroke="#000" stroke-width="1.05" stroke-dasharray="2.6 1.6"/>
<polyline points="399.5,188.18 401.54,194.82 403.58,200.84 405.62,206.3 407.67,211.27 409.71,215.82 411.75,219.98 413.79,223.81 415.83,227.32 417.88,230.57 419.92,233.57 421.96,236.35 424,238.93 426.04,241.33 428.08,243.57 430.12,245.65 432.17,247.6 434.21,249.43 436.25,251.14 438.29,252.74 440.33,254.25 442.38,255.67 444.42,257.01 446.46,258.27 448.5,259.46 450.54,260.59 452.58,261.65 454.62,262.66 456.67,263.62 458.71,264.53 460.75,265.39 462.79,266.21 464.83,267 466.88,267.74 468.92,268.45 470.96,269.13 473,269.77 475.04,270.39 477.08,270.98 479.12,271.54 481.17,272.08 483.21,272.6 485.25,273.1 487.29,273.57 489.33,274.03 491.38,274.46 493.42,274.89 495.46,275.29 497.5,275.68 499.54,276.05 501.58,276.41 503.62,276.76 505.67,277.09 507.71,277.42 509.75,277.73 511.79,278.03 513.83,278.32 515.88,278.6 517.92,278.87 519.96,279.13 522,279.38" fill="none" stroke="#000" stroke-width="0.6" stroke-dasharray="0.8 0.8"/>
<rect x="398.53" y="185.57" width="3" height="3" fill="#fff" stroke="#000" stroke-width="1.2"/>
<path d="M399.58 189.04L401.48 190.94L399.58 192.84L397.68 190.94Z" fill="#fff" stroke="#000" stroke-width="1.2"/>
<rect x="399.99" y="192.55" width="3" height="3" fill="#fff" stroke="#000" stroke-width="1.2"/>
<path d="M403.06 194.94L404.96 196.84L403.06 198.74L401.16 196.84Z" fill="#fff" stroke="#000" stroke-width="1.2"/>
<rect x="402.9" y="197.66" width="3" height="3" fill="#fff" stroke="#000" stroke-width="1.2"/>
<rect x="405.14" y="204.33" width="3" height="3" fill="#fff" stroke="#000" stroke-width="1.2"/>
<circle cx="438.56" cy="221.79" r="1.45" fill="#fff" stroke="#000" stroke-width="1.35"/>
<circle cx="494.56" cy="255.43" r="1.45" fill="#fff" stroke="#000" stroke-width="1.35"/>
<circle cx="516.96" cy="261.94" r="1.45" fill="#fff" stroke="#000" stroke-width="1.35"/>
<rect x="489.7" y="273.3" width="3" height="3" fill="#fff" stroke="#000" stroke-width="1.2"/>
<rect x="491.94" y="273.61" width="3" height="3" fill="#000" stroke="#000" stroke-width="1.2"/>
<circle cx="495.68" cy="275.26" r="1.45" fill="#fff" stroke="#000" stroke-width="1.35"/>
<path d="M497.92 273.52L499.82 275.42L497.92 277.32L496.02 275.42Z" fill="#fff" stroke="#000" stroke-width="1.2"/>
<path d="M500.16 273.68L502.06 275.57L500.16 277.47L498.26 275.57Z" fill="#fff" stroke="#000" stroke-width="1.2"/>
<rect x="518.82" y="278.11" width="3" height="3" fill="#000" stroke="#000" stroke-width="1.2"/>
<rect x="519.94" y="278.57" width="3" height="3" fill="#000" stroke="#000" stroke-width="1.2"/>
<rect x="521.06" y="278.11" width="3" height="3" fill="#000" stroke="#000" stroke-width="1.2"/>
<circle cx="486" cy="177.4" r="1.45" fill="#fff" stroke="#000" stroke-width="1.35"/>
<text x="489.4" y="179.6" class="lg" textLength="33.2" lengthAdjust="spacingAndGlyphs">Test Site 10</text>
<rect x="484.5" y="188.1" width="3" height="3" fill="#fff" stroke="#000" stroke-width="1.2"/>
<text x="489.4" y="191.8" class="lg" textLength="33.2" lengthAdjust="spacingAndGlyphs">Test Site 11</text>
<path d="M486 199.5L487.9 201.4L486 203.3L484.1 201.4Z" fill="#fff" stroke="#000" stroke-width="1.2"/>
<text x="489.4" y="203.6" class="lg" textLength="33.2" lengthAdjust="spacingAndGlyphs">Test Site 12</text>
<text x="419.7" y="204" class="eq" textLength="36.4" lengthAdjust="spacingAndGlyphs">10: y = 11474x</text>
<text x="456.4" y="201.9" class="sup" textLength="10.9" lengthAdjust="spacingAndGlyphs">-1.501</text>
<text x="435.4" y="211.6" class="eq" textLength="15.3" lengthAdjust="spacingAndGlyphs">R<tspan class="r2" dy="-1.9">2</tspan><tspan dy="1.9"> = 1</tspan></text>
<text x="371.8" y="248" class="eq" textLength="37.9" lengthAdjust="spacingAndGlyphs">11: y = 20379x</text>
<text x="410" y="245.9" class="sup" textLength="10.9" lengthAdjust="spacingAndGlyphs">-2.044</text>
<text x="380.9" y="255.1" class="eq" textLength="29.6" lengthAdjust="spacingAndGlyphs">R<tspan class="r2" dy="-1.9">2</tspan><tspan dy="1.9"> = 0.9998</tspan></text>
<text x="398.5" y="271.5" class="eq" textLength="37.6" lengthAdjust="spacingAndGlyphs">12: y = 16122x</text>
<text x="436.4" y="269.4" class="sup" textLength="10.9" lengthAdjust="spacingAndGlyphs">-1.907</text>
<text x="407.6" y="279.3" class="eq" textLength="30.2" lengthAdjust="spacingAndGlyphs">R<tspan class="r2" dy="-1.9">2</tspan><tspan dy="1.9"> = 0.9999</tspan></text>
<text x="402.4" y="313.4" class="xt" textLength="78.5" lengthAdjust="spacingAndGlyphs">Water Content, <tspan font-style="italic">w</tspan> (%)</text>
<text transform="translate(318.6 273.4) rotate(-90)" x="0" y="0" class="yt2" textLength="90.4" lengthAdjust="spacingAndGlyphs">Matric Suction, <tspan font-style="italic">u</tspan><tspan font-style="italic" font-size="5.4" dy="1.6">a</tspan><tspan dy="-1.6">-</tspan><tspan font-style="italic">u</tspan><tspan font-style="italic" font-size="5.4" dy="1.6">w</tspan><tspan dy="-1.6"> (kPa)</tspan></text>
<rect x="34" y="325.5" width="202.4" height="123" fill="none" stroke="#474747" stroke-width="1.35"/>
<text x="34" y="459.1" class="tk" text-anchor="middle" textLength="3.55" lengthAdjust="spacingAndGlyphs">0</text>
<text x="50.87" y="459.1" class="tk" text-anchor="middle" textLength="3.55" lengthAdjust="spacingAndGlyphs">2</text>
<text x="67.73" y="459.1" class="tk" text-anchor="middle" textLength="3.55" lengthAdjust="spacingAndGlyphs">4</text>
<text x="84.6" y="459.1" class="tk" text-anchor="middle" textLength="3.55" lengthAdjust="spacingAndGlyphs">6</text>
<text x="101.47" y="459.1" class="tk" text-anchor="middle" textLength="3.55" lengthAdjust="spacingAndGlyphs">8</text>
<text x="118.33" y="459.1" class="tk" text-anchor="middle" textLength="7.1" lengthAdjust="spacingAndGlyphs">10</text>
<text x="135.2" y="459.1" class="tk" text-anchor="middle" textLength="7.1" lengthAdjust="spacingAndGlyphs">12</text>
<text x="152.07" y="459.1" class="tk" text-anchor="middle" textLength="7.1" lengthAdjust="spacingAndGlyphs">14</text>
<text x="168.93" y="459.1" class="tk" text-anchor="middle" textLength="7.1" lengthAdjust="spacingAndGlyphs">16</text>
<text x="185.8" y="459.1" class="tk" text-anchor="middle" textLength="7.1" lengthAdjust="spacingAndGlyphs">18</text>
<text x="202.67" y="459.1" class="tk" text-anchor="middle" textLength="7.1" lengthAdjust="spacingAndGlyphs">20</text>
<text x="219.53" y="459.1" class="tk" text-anchor="middle" textLength="7.1" lengthAdjust="spacingAndGlyphs">22</text>
<text x="236.4" y="459.1" class="tk" text-anchor="middle" textLength="7.1" lengthAdjust="spacingAndGlyphs">24</text>
<text x="28" y="450.9" class="tk" text-anchor="end" textLength="3.55" lengthAdjust="spacingAndGlyphs">0</text>
<text x="28" y="433.33" class="tk" text-anchor="end" textLength="10.65" lengthAdjust="spacingAndGlyphs">200</text>
<text x="28" y="415.76" class="tk" text-anchor="end" textLength="10.65" lengthAdjust="spacingAndGlyphs">400</text>
<text x="28" y="398.19" class="tk" text-anchor="end" textLength="10.65" lengthAdjust="spacingAndGlyphs">600</text>
<text x="28" y="380.61" class="tk" text-anchor="end" textLength="10.65" lengthAdjust="spacingAndGlyphs">800</text>
<text x="28" y="363.04" class="tk" text-anchor="end" textLength="14.2" lengthAdjust="spacingAndGlyphs">1000</text>
<text x="28" y="345.47" class="tk" text-anchor="end" textLength="14.2" lengthAdjust="spacingAndGlyphs">1200</text>
<text x="28" y="327.9" class="tk" text-anchor="end" textLength="14.2" lengthAdjust="spacingAndGlyphs">1400</text>
<path d="M34 448.5v2.2M50.87 448.5v2.2M67.73 448.5v2.2M84.6 448.5v2.2M101.47 448.5v2.2M118.33 448.5v2.2M135.2 448.5v2.2M152.07 448.5v2.2M168.93 448.5v2.2M185.8 448.5v2.2M202.67 448.5v2.2M219.53 448.5v2.2M236.4 448.5v2.2M34 448.5h-2.2M34 430.93h-2.2M34 413.36h-2.2M34 395.79h-2.2M34 378.21h-2.2M34 360.64h-2.2M34 343.07h-2.2M34 325.5h-2.2" stroke="#474747" stroke-width="1" fill="none"/>
<polyline points="106.3,387.3 108.31,389.27 110.32,391.13 112.33,392.89 114.35,394.55 116.36,396.12 118.37,397.6 120.38,399.02 122.39,400.36 124.4,401.64 126.42,402.85 128.43,404.01 130.44,405.12 132.45,406.17 134.46,407.18 136.47,408.15 138.49,409.08 140.5,409.96 142.51,410.82 144.52,411.63 146.53,412.42 148.55,413.18 150.56,413.9 152.57,414.6 154.58,415.28 156.59,415.93 158.6,416.55 160.62,417.16 162.63,417.74 164.64,418.31 166.65,418.85 168.66,419.38 170.67,419.89 172.68,420.39 174.7,420.87 176.71,421.33 178.72,421.78 180.73,422.22 182.74,422.64 184.75,423.06 186.77,423.46 188.78,423.84 190.79,424.22 192.8,424.59 194.81,424.95 196.82,425.29 198.84,425.63 200.85,425.96 202.86,426.28 204.87,426.59 206.88,426.9 208.89,427.19 210.91,427.48 212.92,427.76 214.93,428.04 216.94,428.31 218.95,428.57 220.97,428.82 222.98,429.07 224.99,429.32 227,429.56" fill="none" stroke="#000" stroke-width="1.2"/>
<polyline points="78,357.03 79.42,360.95 80.83,364.59 82.25,367.98 83.67,371.13 85.08,374.08 86.5,376.85 87.92,379.44 89.33,381.87 90.75,384.16 92.17,386.31 93.58,388.35 95,390.27 96.42,392.09 97.83,393.81 99.25,395.45 100.67,397 102.08,398.48 103.5,399.88 104.92,401.22 106.33,402.5 107.75,403.71 109.17,404.88 110.58,405.99 112,407.05 113.42,408.07 114.83,409.05 116.25,409.98 117.67,410.88 119.08,411.74 120.5,412.57 121.92,413.37 123.33,414.14 124.75,414.88 126.17,415.59 127.58,416.28 129,416.94 130.42,417.58 131.83,418.2 133.25,418.79 134.67,419.37 136.08,419.93 137.5,420.47 138.92,420.99 140.33,421.49 141.75,421.98 143.17,422.46 144.58,422.92 146,423.37 147.42,423.8 148.83,424.22 150.25,424.63 151.67,425.02 153.08,425.41 154.5,425.78 155.92,426.15 157.33,426.5 158.75,426.85 160.17,427.18 161.58,427.51 163,427.83" fill="none" stroke="#000" stroke-width="1.05" stroke-dasharray="2.6 1.6"/>
<polyline points="74,344.14 75.48,349.27 76.97,353.97 78.45,358.3 79.93,362.31 81.42,366.01 82.9,369.45 84.38,372.65 85.87,375.63 87.35,378.42 88.83,381.03 90.32,383.47 91.8,385.77 93.28,387.93 94.77,389.96 96.25,391.88 97.73,393.7 99.22,395.41 100.7,397.04 102.18,398.58 103.67,400.04 105.15,401.43 106.63,402.76 108.12,404.02 109.6,405.22 111.08,406.37 112.57,407.46 114.05,408.51 115.53,409.51 117.02,410.47 118.5,411.39 119.98,412.28 121.47,413.12 122.95,413.94 124.43,414.72 125.92,415.47 127.4,416.19 128.88,416.89 130.37,417.56 131.85,418.21 133.33,418.83 134.82,419.43 136.3,420.01 137.78,420.57 139.27,421.12 140.75,421.64 142.23,422.15 143.72,422.64 145.2,423.12 146.68,423.58 148.17,424.02 149.65,424.46 151.13,424.88 152.62,425.28 154.1,425.68 155.58,426.06 157.07,426.44 158.55,426.8 160.03,427.15 161.52,427.49 163,427.83" fill="none" stroke="#000" stroke-width="0.6" stroke-dasharray="0.8 0.8"/>
<path d="M74.44 340.83L76.34 342.73L74.44 344.63L72.54 342.73Z" fill="#fff" stroke="#000" stroke-width="1.2"/>
<rect x="76.74" y="353.77" width="3" height="3" fill="#fff" stroke="#000" stroke-width="1.2"/>
<rect x="77.58" y="354.83" width="3" height="3" fill="#fff" stroke="#000" stroke-width="1.2"/>
<rect x="79.26" y="359.39" width="3" height="3" fill="#fff" stroke="#000" stroke-width="1.2"/>
<rect x="81.29" y="362.19" width="3" height="3" fill="#fff" stroke="#000" stroke-width="1.2"/>
<rect x="82.47" y="363.86" width="3" height="3" fill="#fff" stroke="#000" stroke-width="1.2"/>
<circle cx="106.31" cy="387.72" r="1.45" fill="#fff" stroke="#000" stroke-width="1.35"/>
<circle cx="117.01" cy="417.81" r="1.45" fill="#fff" stroke="#000" stroke-width="1.35"/>
<circle cx="120.81" cy="417.81" r="1.45" fill="#fff" stroke="#000" stroke-width="1.35"/>
<circle cx="148.63" cy="413.6" r="1.45" fill="#fff" stroke="#000" stroke-width="1.35"/>
<circle cx="163.8" cy="411.93" r="1.45" fill="#fff" stroke="#000" stroke-width="1.35"/>
<circle cx="167.59" cy="411.93" r="1.45" fill="#fff" stroke="#000" stroke-width="1.35"/>
<circle cx="154.95" cy="427.8" r="1.45" fill="#fff" stroke="#000" stroke-width="1.35"/>
<circle cx="157.48" cy="427.8" r="1.45" fill="#fff" stroke="#000" stroke-width="1.35"/>
<circle cx="165.06" cy="426.31" r="1.45" fill="#fff" stroke="#000" stroke-width="1.35"/>
<circle cx="170.12" cy="428.86" r="1.45" fill="#fff" stroke="#000" stroke-width="1.35"/>
<circle cx="171.81" cy="429.29" r="1.45" fill="#fff" stroke="#000" stroke-width="1.35"/>
<circle cx="206.37" cy="429.29" r="1.45" fill="#fff" stroke="#000" stroke-width="1.35"/>
<circle cx="209.74" cy="426.31" r="1.45" fill="#fff" stroke="#000" stroke-width="1.35"/>
<circle cx="223.23" cy="429.29" r="1.45" fill="#fff" stroke="#000" stroke-width="1.35"/>
<circle cx="226.6" cy="429.29" r="1.45" fill="#fff" stroke="#000" stroke-width="1.35"/>
<rect x="148.39" y="420.87" width="3" height="3" fill="#fff" stroke="#000" stroke-width="1.2"/>
<rect x="149.23" y="422.01" width="3" height="3" fill="#fff" stroke="#000" stroke-width="1.2"/>
<circle cx="180" cy="336.7" r="1.45" fill="#fff" stroke="#000" stroke-width="1.35"/>
<text x="184.2" y="338.9" class="lg" textLength="33.1" lengthAdjust="spacingAndGlyphs">Test Site 10</text>
<rect x="178.5" y="347.1" width="3" height="3" fill="#fff" stroke="#000" stroke-width="1.2"/>
<text x="184.2" y="350.8" class="lg" textLength="33.1" lengthAdjust="spacingAndGlyphs">Test Site 11</text>
<path d="M180 358.2L181.9 360.1L180 362L178.1 360.1Z" fill="#fff" stroke="#000" stroke-width="1.2"/>
<text x="184.2" y="362.3" class="lg" textLength="33.1" lengthAdjust="spacingAndGlyphs">Test Site 12</text>
<text x="130.5" y="391" class="eq" textLength="37.8" lengthAdjust="spacingAndGlyphs">10: y = 10365x</text>
<text x="168.6" y="388.9" class="sup" textLength="10.9" lengthAdjust="spacingAndGlyphs">-1.249</text>
<text x="139.8" y="398.6" class="eq" textLength="29.9" lengthAdjust="spacingAndGlyphs">R<tspan class="r2" dy="-1.9">2</tspan><tspan dy="1.9"> = 0.8977</tspan></text>
<text x="45" y="408" class="eq" textLength="37.3" lengthAdjust="spacingAndGlyphs">11: y = 10223x</text>
<text x="82.6" y="405.9" class="sup" textLength="10.9" lengthAdjust="spacingAndGlyphs">-1.392</text>
<text x="54.1" y="415.3" class="eq" textLength="29.6" lengthAdjust="spacingAndGlyphs">R<tspan class="r2" dy="-1.9">2</tspan><tspan dy="1.9"> = 0.9902</tspan></text>
<text x="56.5" y="431.1" class="eq" textLength="37.3" lengthAdjust="spacingAndGlyphs">12: y = 11512x</text>
<text x="94.1" y="429" class="sup" textLength="10.9" lengthAdjust="spacingAndGlyphs">-1.442</text>
<text x="65.9" y="438.4" class="eq" textLength="29.1" lengthAdjust="spacingAndGlyphs">R<tspan class="r2" dy="-1.9">2</tspan><tspan dy="1.9"> = 0.9908</tspan></text>
<text x="96.5" y="470" class="xt" textLength="78.6" lengthAdjust="spacingAndGlyphs">Water Content, <tspan font-style="italic">w</tspan> (%)</text>
<text transform="translate(9.6 387.5) rotate(-90)" x="0" y="0" text-anchor="middle" class="yt1" textLength="73" lengthAdjust="spacingAndGlyphs">Total Suction, <tspan font-style="italic">ψ</tspan> (kPa)</text>
<text x="4.5" y="469.5" class="cap" textLength="49.1" lengthAdjust="spacingAndGlyphs">(c) CL-ML</text>
<text x="57.8" y="469.5" class="cap" textLength="18.9" lengthAdjust="spacingAndGlyphs">soils</text>
<rect x="339.9" y="324.9" width="204.1" height="122.7" fill="none" stroke="#474747" stroke-width="1.35"/>
<text x="339.9" y="458.2" class="tk" text-anchor="middle" textLength="3.55" lengthAdjust="spacingAndGlyphs">0</text>
<text x="356.91" y="458.2" class="tk" text-anchor="middle" textLength="3.55" lengthAdjust="spacingAndGlyphs">2</text>
<text x="373.92" y="458.2" class="tk" text-anchor="middle" textLength="3.55" lengthAdjust="spacingAndGlyphs">4</text>
<text x="390.92" y="458.2" class="tk" text-anchor="middle" textLength="3.55" lengthAdjust="spacingAndGlyphs">6</text>
<text x="407.93" y="458.2" class="tk" text-anchor="middle" textLength="3.55" lengthAdjust="spacingAndGlyphs">8</text>
<text x="424.94" y="458.2" class="tk" text-anchor="middle" textLength="7.1" lengthAdjust="spacingAndGlyphs">10</text>
<text x="441.95" y="458.2" class="tk" text-anchor="middle" textLength="7.1" lengthAdjust="spacingAndGlyphs">12</text>
<text x="458.96" y="458.2" class="tk" text-anchor="middle" textLength="7.1" lengthAdjust="spacingAndGlyphs">14</text>
<text x="475.97" y="458.2" class="tk" text-anchor="middle" textLength="7.1" lengthAdjust="spacingAndGlyphs">16</text>
<text x="492.98" y="458.2" class="tk" text-anchor="middle" textLength="7.1" lengthAdjust="spacingAndGlyphs">18</text>
<text x="509.98" y="458.2" class="tk" text-anchor="middle" textLength="7.1" lengthAdjust="spacingAndGlyphs">20</text>
<text x="526.99" y="458.2" class="tk" text-anchor="middle" textLength="7.1" lengthAdjust="spacingAndGlyphs">22</text>
<text x="544" y="458.2" class="tk" text-anchor="middle" textLength="7.1" lengthAdjust="spacingAndGlyphs">24</text>
<text x="333.9" y="450" class="tk" text-anchor="end" textLength="3.55" lengthAdjust="spacingAndGlyphs">0</text>
<text x="333.9" y="436.37" class="tk" text-anchor="end" textLength="10.65" lengthAdjust="spacingAndGlyphs">100</text>
<text x="333.9" y="422.73" class="tk" text-anchor="end" textLength="10.65" lengthAdjust="spacingAndGlyphs">200</text>
<text x="333.9" y="409.1" class="tk" text-anchor="end" textLength="10.65" lengthAdjust="spacingAndGlyphs">300</text>
<text x="333.9" y="395.47" class="tk" text-anchor="end" textLength="10.65" lengthAdjust="spacingAndGlyphs">400</text>
<text x="333.9" y="381.83" class="tk" text-anchor="end" textLength="10.65" lengthAdjust="spacingAndGlyphs">500</text>
<text x="333.9" y="368.2" class="tk" text-anchor="end" textLength="10.65" lengthAdjust="spacingAndGlyphs">600</text>
<text x="333.9" y="354.57" class="tk" text-anchor="end" textLength="10.65" lengthAdjust="spacingAndGlyphs">700</text>
<text x="333.9" y="340.93" class="tk" text-anchor="end" textLength="10.65" lengthAdjust="spacingAndGlyphs">800</text>
<text x="333.9" y="327.3" class="tk" text-anchor="end" textLength="10.65" lengthAdjust="spacingAndGlyphs">900</text>
<path d="M339.9 447.6v2.2M356.91 447.6v2.2M373.92 447.6v2.2M390.92 447.6v2.2M407.93 447.6v2.2M424.94 447.6v2.2M441.95 447.6v2.2M458.96 447.6v2.2M475.97 447.6v2.2M492.98 447.6v2.2M509.98 447.6v2.2M526.99 447.6v2.2M544 447.6v2.2M339.9 447.6h-2.2M339.9 433.97h-2.2M339.9 420.33h-2.2M339.9 406.7h-2.2M339.9 393.07h-2.2M339.9 379.43h-2.2M339.9 365.8h-2.2M339.9 352.17h-2.2M339.9 338.53h-2.2M339.9 324.9h-2.2" stroke="#474747" stroke-width="1" fill="none"/>
<polyline points="412,384.21 414.03,386.77 416.07,389.16 418.1,391.4 420.13,393.5 422.17,395.48 424.2,397.33 426.23,399.08 428.27,400.73 430.3,402.28 432.33,403.75 434.37,405.15 436.4,406.47 438.43,407.72 440.47,408.91 442.5,410.04 444.53,411.12 446.57,412.15 448.6,413.13 450.63,414.06 452.67,414.96 454.7,415.81 456.73,416.63 458.77,417.41 460.8,418.16 462.83,418.88 464.87,419.57 466.9,420.24 468.93,420.87 470.97,421.49 473,422.08 475.03,422.65 477.07,423.19 479.1,423.72 481.13,424.23 483.17,424.72 485.2,425.19 487.23,425.65 489.27,426.09 491.3,426.52 493.33,426.93 495.37,427.33 497.4,427.72 499.43,428.09 501.47,428.46 503.5,428.81 505.53,429.15 507.57,429.48 509.6,429.8 511.63,430.11 513.67,430.42 515.7,430.71 517.73,431 519.77,431.28 521.8,431.55 523.83,431.81 525.87,432.06 527.9,432.31 529.93,432.55 531.97,432.79 534,433.02" fill="none" stroke="#000" stroke-width="1.2"/>
<polyline points="383,349.93 384.58,356.43 386.17,362.3 387.75,367.61 389.33,372.44 390.92,376.83 392.5,380.85 394.08,384.53 395.67,387.9 397.25,391.01 398.83,393.88 400.42,396.54 402,399 403.58,401.28 405.17,403.4 406.75,405.38 408.33,407.23 409.92,408.96 411.5,410.57 413.08,412.09 414.67,413.51 416.25,414.85 417.83,416.11 419.42,417.3 421,418.42 422.58,419.48 424.17,420.48 425.75,421.43 427.33,422.32 428.92,423.18 430.5,423.99 432.08,424.75 433.67,425.49 435.25,426.18 436.83,426.85 438.42,427.48 440,428.08 441.58,428.66 443.17,429.21 444.75,429.74 446.33,430.24 447.92,430.72 449.5,431.19 451.08,431.63 452.67,432.06 454.25,432.47 455.83,432.86 457.42,433.24 459,433.6 460.58,433.95 462.17,434.28 463.75,434.61 465.33,434.92 466.92,435.22 468.5,435.51 470.08,435.79 471.67,436.06 473.25,436.32 474.83,436.57 476.42,436.81 478,437.05" fill="none" stroke="#000" stroke-width="1.05" stroke-dasharray="2.6 1.6"/>
<polyline points="380,335.49 381.63,343.72 383.27,351.07 384.9,357.66 386.53,363.58 388.17,368.93 389.8,373.78 391.43,378.18 393.07,382.2 394.7,385.88 396.33,389.25 397.97,392.34 399.6,395.19 401.23,397.83 402.87,400.27 404.5,402.53 406.13,404.63 407.77,406.58 409.4,408.41 411.03,410.11 412.67,411.7 414.3,413.19 415.93,414.59 417.57,415.9 419.2,417.14 420.83,418.3 422.47,419.4 424.1,420.44 425.73,421.42 427.37,422.34 429,423.22 430.63,424.05 432.27,424.84 433.9,425.59 435.53,426.3 437.17,426.98 438.8,427.63 440.43,428.24 442.07,428.83 443.7,429.39 445.33,429.93 446.97,430.44 448.6,430.93 450.23,431.4 451.87,431.84 453.5,432.27 455.13,432.69 456.77,433.08 458.4,433.46 460.03,433.83 461.67,434.18 463.3,434.52 464.93,434.84 466.57,435.15 468.2,435.45 469.83,435.74 471.47,436.02 473.1,436.29 474.73,436.55 476.37,436.81 478,437.05" fill="none" stroke="#000" stroke-width="0.6" stroke-dasharray="0.8 0.8"/>
<path d="M379.96 341.99L381.86 343.89L379.96 345.79L378.06 343.89Z" fill="#fff" stroke="#000" stroke-width="1.2"/>
<rect x="382.26" y="354.68" width="3" height="3" fill="#000" stroke="#000" stroke-width="1.2"/>
<rect x="382.43" y="355.63" width="3" height="3" fill="#fff" stroke="#000" stroke-width="1.2"/>
<path d="M386.96 367.25L388.86 369.15L386.96 371.05L385.06 369.15Z" fill="#fff" stroke="#000" stroke-width="1.2"/>
<path d="M389.49 373.74L391.39 375.64L389.49 377.54L387.59 375.64Z" fill="#fff" stroke="#000" stroke-width="1.2"/>
<circle cx="412.34" cy="385.5" r="1.45" fill="#fff" stroke="#000" stroke-width="1.35"/>
<circle cx="422.7" cy="418.33" r="1.45" fill="#fff" stroke="#000" stroke-width="1.35"/>
<rect x="425.67" y="420.21" width="3" height="3" fill="#fff" stroke="#000" stroke-width="1.2"/>
<circle cx="454.99" cy="415.76" r="1.45" fill="#fff" stroke="#000" stroke-width="1.35"/>
<circle cx="470.59" cy="420.9" r="1.45" fill="#fff" stroke="#000" stroke-width="1.35"/>
<circle cx="472.27" cy="421.71" r="1.45" fill="#fff" stroke="#000" stroke-width="1.35"/>
<circle cx="474.38" cy="422.25" r="1.45" fill="#fff" stroke="#000" stroke-width="1.35"/>
<circle cx="513.16" cy="430.35" r="1.45" fill="#fff" stroke="#000" stroke-width="1.35"/>
<circle cx="516.53" cy="430.62" r="1.45" fill="#fff" stroke="#000" stroke-width="1.35"/>
<circle cx="530.02" cy="432.24" r="1.45" fill="#fff" stroke="#000" stroke-width="1.35"/>
<circle cx="534.23" cy="432.24" r="1.45" fill="#fff" stroke="#000" stroke-width="1.35"/>
<rect x="455.6" y="431.55" width="3" height="3" fill="#000" stroke="#000" stroke-width="1.2"/>
<circle cx="460.89" cy="433.6" r="1.45" fill="#fff" stroke="#000" stroke-width="1.35"/>
<path d="M463.42 432.51L465.32 434.41L463.42 436.31L461.52 434.41Z" fill="#fff" stroke="#000" stroke-width="1.2"/>
<circle cx="476.91" cy="437.38" r="1.45" fill="#fff" stroke="#000" stroke-width="1.35"/>
<circle cx="478.17" cy="437.38" r="1.45" fill="#fff" stroke="#000" stroke-width="1.35"/>
<circle cx="486.7" cy="336" r="1.45" fill="#fff" stroke="#000" stroke-width="1.35"/>
<text x="490.3" y="338.2" class="lg" textLength="33.5" lengthAdjust="spacingAndGlyphs">Test Site 10</text>
<rect x="485.2" y="346.3" width="3" height="3" fill="#fff" stroke="#000" stroke-width="1.2"/>
<text x="490.3" y="350" class="lg" textLength="33.5" lengthAdjust="spacingAndGlyphs">Test Site 11</text>
<path d="M486.7 357.7L488.6 359.6L486.7 361.5L484.8 359.6Z" fill="#fff" stroke="#000" stroke-width="1.2"/>
<text x="490.3" y="361.8" class="lg" textLength="33.5" lengthAdjust="spacingAndGlyphs">Test Site 12</text>
<text x="429.8" y="389.3" class="eq" textLength="38.2" lengthAdjust="spacingAndGlyphs">10: y = 12399x</text>
<text x="468.3" y="387.2" class="sup" textLength="10.9" lengthAdjust="spacingAndGlyphs">-1.502</text>
<text x="438.5" y="397.4" class="eq" textLength="30.5" lengthAdjust="spacingAndGlyphs">R<tspan class="r2" dy="-1.9">2</tspan><tspan dy="1.9"> = 0.9998</tspan></text>
<text x="342.2" y="399.8" class="eq" textLength="38.1" lengthAdjust="spacingAndGlyphs">11: y = 18090x</text>
<text x="380.6" y="397.7" class="sup" textLength="10.9" lengthAdjust="spacingAndGlyphs">-1.977</text>
<text x="352.3" y="407.4" class="eq" textLength="29.6" lengthAdjust="spacingAndGlyphs">R<tspan class="r2" dy="-1.9">2</tspan><tspan dy="1.9"> = 0.9997</tspan></text>
<text x="349.7" y="425.2" class="eq" textLength="38.7" lengthAdjust="spacingAndGlyphs">12: y = 16063x</text>
<text x="388.7" y="423.1" class="sup" textLength="10.9" lengthAdjust="spacingAndGlyphs">-1.932</text>
<text x="360.4" y="432.8" class="eq" textLength="27.8" lengthAdjust="spacingAndGlyphs">R<tspan class="r2" dy="-1.9">2</tspan><tspan dy="1.9"> = 0.999</tspan></text>
<text x="402.4" y="468.8" class="xt" textLength="78.5" lengthAdjust="spacingAndGlyphs">Water Content, <tspan font-style="italic">w</tspan> (%)</text>
<text transform="translate(318.3 432.1) rotate(-90)" x="0" y="0" class="yt2" textLength="90" lengthAdjust="spacingAndGlyphs">Matric Suction, <tspan font-style="italic">u</tspan><tspan font-style="italic" font-size="5.4" dy="1.6">a</tspan><tspan dy="-1.6">-</tspan><tspan font-style="italic">u</tspan><tspan font-style="italic" font-size="5.4" dy="1.6">w</tspan><tspan dy="-1.6"> (kPa)</tspan></text>
</g>
</svg>
</body></html>
